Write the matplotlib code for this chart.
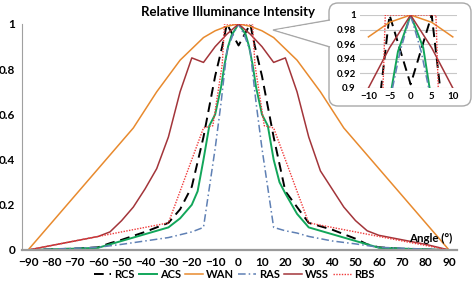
import matplotlib

matplotlib.use("Agg")
import matplotlib.pyplot as plt
from matplotlib.patches import FancyBboxPatch, Polygon
from matplotlib.transforms import IdentityTransform

plt.rcParams["font.family"] = ["Lato", "DejaVu Sans"]
plt.rcParams["font.weight"] = "bold"

# angle (deg) / relative intensity for each lens type
rcs_ang = [-90, -80, -70, -60, -55, -50, -40, -30, -25, -20, -15, -10, -7, -5, 0,
           5, 7, 10, 15, 20, 25, 30, 40, 50, 55, 60, 70, 80, 90]
rcs_val = [0, 0.003, 0.006, 0.012, 0.03, 0.045, 0.08, 0.12, 0.18, 0.28, 0.5, 0.77, 0.9, 1.0, 0.905,
           1.0, 0.9, 0.77, 0.5, 0.26, 0.19, 0.12, 0.09, 0.05, 0.025, 0.012, 0.005, 0.002, 0]

acs_ang = [-90, -80, -70, -60, -50, -40, -30, -25, -20, -17.5, -15, -12.5, -10, -7.5, -6, -4.5, -3, 0,
           3, 4.5, 6, 7.5, 10, 12.5, 15, 17.5, 20, 25, 30, 40, 50, 60, 70, 80, 90]
acs_val = [0, 0.003, 0.006, 0.01, 0.04, 0.07, 0.1, 0.14, 0.2, 0.26, 0.4, 0.55, 0.6, 0.72, 0.82, 0.9, 0.95, 1.0,
           0.955, 0.9, 0.82, 0.72, 0.6, 0.55, 0.4, 0.3, 0.25, 0.16, 0.1, 0.07, 0.04, 0.01, 0.006, 0.003, 0]

wan_ang = [-90, -80, -70, -60, -50, -45, -40, -35, -30, -25, -20, -15, -10, -5, 0,
           5, 10, 15, 20, 25, 30, 35, 40, 45, 50, 60, 70, 80, 90]
wan_val = [0, 0.12, 0.24, 0.36, 0.48, 0.54, 0.62, 0.70, 0.77, 0.84, 0.89, 0.94, 0.97, 0.99, 1.0,
           0.99, 0.97, 0.94, 0.89, 0.84, 0.77, 0.70, 0.62, 0.54, 0.48, 0.36, 0.24, 0.12, 0]

ras_ang = [-90, -60, -50, -40, -30, -20, -15, -10, -7.5, -5, -2.5, 0,
           2.5, 5, 7.5, 10, 15, 20, 25, 30, 40, 50, 60, 90]
ras_val = [0, 0.012, 0.025, 0.04, 0.055, 0.08, 0.1, 0.45, 0.65, 0.88, 0.95, 1.0,
           0.95, 0.88, 0.65, 0.45, 0.1, 0.085, 0.075, 0.06, 0.04, 0.027, 0.012, 0]

wss_ang = [-90, -80, -70, -60, -55, -50, -45, -40, -35, -30, -25, -20, -15, -10, -5, 0,
           5, 10, 15, 20, 25, 30, 35, 40, 45, 50, 55, 60, 70, 80, 90]
wss_val = [0, 0.02, 0.04, 0.06, 0.08, 0.13, 0.19, 0.27, 0.36, 0.5, 0.70, 0.85, 0.83, 0.9, 0.955, 1.0,
           0.955, 0.9, 0.83, 0.85, 0.7, 0.5, 0.35, 0.27, 0.19, 0.13, 0.085, 0.065, 0.045, 0.025, 0]

rbs_ang = [-90, -80, -70, -60, -50, -40, -30, -15, -11, -7, -6, 0,
           6, 7, 11, 15, 30, 40, 50, 60, 70, 80, 90]
rbs_val = [0, 0.02, 0.04, 0.06, 0.08, 0.10, 0.12, 0.54, 0.55, 0.82, 1.0, 1.0,
           1.0, 0.82, 0.55, 0.54, 0.12, 0.1, 0.08, 0.06, 0.04, 0.02, 0]

x_ticks = list(range(-90, 91, 10))
y_ticks = [0, 0.2, 0.4, 0.6, 0.8, 1]
inset_y_ticks = [0.9, 0.92, 0.94, 0.96, 0.98, 1]
inset_x_ticks = [-10, -5, 0, 5, 10]
inset_span = 10  # the zoom shows only -10..10 deg

series = [
    ("RCS", rcs_ang, rcs_val, dict(color="black", linestyle=(0, (5, 3)), linewidth=1.4)),
    ("ACS", acs_ang, acs_val, dict(color="#12a65a", linestyle="-", linewidth=1.4)),
    ("WAN", wan_ang, wan_val, dict(color="#e88a2e", linestyle="-", linewidth=1.1)),
    ("RAS", ras_ang, ras_val, dict(color="#5f80b4", linestyle=(0, (5, 2, 1, 2)), linewidth=1.1)),
    ("WSS", wss_ang, wss_val, dict(color="#a3353a", linestyle="-", linewidth=1.1)),
    ("RBS", rbs_ang, rbs_val, dict(color="#f03a3a", linestyle=(0, (1, 1)), linewidth=1.0)),
]

W, H = 474, 285
fig = plt.figure(figsize=(W / 100, H / 100), dpi=100)


def fbox(x0, y0, x1, y1):
    # pixel box (top-left origin) -> figure fraction rect
    return [x0 / W, 1 - y1 / H, (x1 - x0) / W, (y1 - y0) / H]


ax = fig.add_axes(fbox(22, 24, 457, 250))
for name, xs, ys, style in series:
    ax.plot(xs, ys, label=name, **style)

ax.set_xlim(-92.6, 93.4)
ax.set_ylim(0, 1)
ax.set_xticks(x_ticks)
ax.set_yticks(y_ticks)
ax.set_yticklabels(["0", "0.2", "0.4", "0.6", "0.8", "1"])
ax.tick_params(axis="both", length=0, labelsize=8.5, pad=5)
for lab in ax.get_xticklabels() + ax.get_yticklabels():
    lab.set_fontweight("bold")
for side in ("top", "right"):
    ax.spines[side].set_visible(False)
ax.spines["left"].set_color("#a0a0a0")
ax.spines["left"].set_linewidth(0.8)
ax.spines["bottom"].set_color("#9a9a9a")
ax.spines["bottom"].set_linewidth(1.6)

fig.text(228 / W, 1 - 12 / H, "Relative Illuminance Intensity", ha="center", va="center",
         fontsize=9.5, fontweight="bold")
ax.text(91.5, 0.053, "Angle (°)", ha="right", va="center", fontsize=8.3, fontweight="bold")

ax.legend(loc="center", bbox_to_anchor=(234 / W, 1 - 274 / H), bbox_transform=fig.transFigure,
          ncol=6, frameon=False, handlelength=1.6, handletextpad=0.25,
          columnspacing=0.4, prop={"weight": "bold", "size": 8})

# callout box for the zoomed peak
def disp(x, y):
    return (x, H - y)

box = FancyBboxPatch(disp(329, 106), 142, 103, boxstyle="round,pad=0,rounding_size=9",
                     transform=IdentityTransform(), facecolor="white", edgecolor="#a8a8a8",
                     linewidth=1.0, zorder=5)
fig.patches.append(box)
pointer = Polygon([disp(330, 20), disp(273, 30), disp(330, 47)], closed=False,
                  transform=IdentityTransform(), facecolor="white", edgecolor="#a8a8a8",
                  linewidth=1.0, zorder=6)
fig.patches.append(pointer)
cover = Polygon([disp(331, 21), disp(276, 30), disp(331, 46)], closed=True,
                transform=IdentityTransform(), facecolor="white", edgecolor="none", zorder=7)
fig.patches.append(cover)

axi = fig.add_axes(fbox(360, 15, 457, 88), zorder=10)
axi.patch.set_alpha(0)
for name, xs, ys, style in series:
    pts = [(a, v) for a, v in zip(xs, ys) if abs(a) <= inset_span]
    axi.plot([p[0] for p in pts], [p[1] for p in pts], **style)
axi.set_xlim(-12, 11)
axi.set_ylim(0.9, 1.0)
axi.set_yticks(inset_y_ticks)
axi.set_yticklabels(["0.9", "0.92", "0.94", "0.96", "0.98", "1"])
axi.set_xticks(inset_x_ticks)
axi.grid(axis="y", color="#c8c8c8", linewidth=0.8)
axi.set_axisbelow(True)
axi.tick_params(axis="both", length=0, labelsize=7, pad=3)
for lab in axi.get_xticklabels() + axi.get_yticklabels():
    lab.set_fontweight("bold")
for side in ("top", "right", "left", "bottom"):
    axi.spines[side].set_visible(False)

fig.savefig("out.png", dpi=100)
plt.close(fig)
